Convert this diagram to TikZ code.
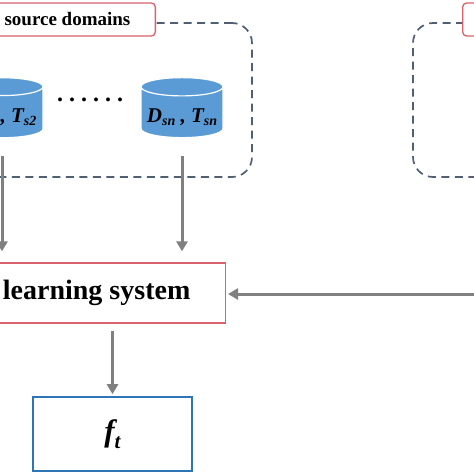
\documentclass[tikz,border=0pt]{standalone}
\usepackage{fontspec}
\setmainfont{Liberation Serif}
\usetikzlibrary{positioning,shapes.geometric,arrows.meta}

\definecolor{cylblue}{RGB}{91,155,213}
\definecolor{lblred}{RGB}{218,98,108}
\definecolor{dashgray}{RGB}{80,96,114}
\definecolor{arrgray}{RGB}{128,128,128}
\definecolor{boxblue}{RGB}{46,117,182}

\newcommand{\dbtext}[2]{\raisebox{-10pt}[0pt][0pt]{D\raisebox{-0.35ex}{\fontsize{14}{14}\selectfont #1} , T\raisebox{-0.35ex}{\fontsize{14}{14}\selectfont #2}}}

\begin{document}
\begin{tikzpicture}[x=1pt,y=-1pt,
  group/.style={draw=dashgray,line width=1.7pt,rounded corners=20pt,dash pattern=on 8pt off 5.5pt},
  tag/.style={draw=lblred,line width=1.3pt,rounded corners=4pt,fill=white,minimum height=33pt,font=\fontsize{19}{19}\selectfont\bfseries},
  db/.style={cylinder,shape border rotate=90,aspect=0.26,minimum width=82pt,minimum height=60pt,
    cylinder uses custom fill,cylinder body fill=cylblue,cylinder end fill=cylblue,draw=white,line width=1.2pt,
    inner sep=0pt,font=\fontsize{21}{21}\selectfont\bfseries\itshape},
  flow/.style={draw=arrgray,line width=3pt,-{Triangle[length=10pt,width=11pt]}}]

\useasboundingbox (0,0) rectangle (474,474);
\clip (0,0) rectangle (474,474);

% source side
\node[group,minimum width=352pt,minimum height=154pt] (src) at (76,100) {};
\node[tag,anchor=east,inner xsep=25pt] (srctag) at (156,19.5) {source domains};

\node[db] (ds2) at (2,112.5) {\dbtext{s2}{s2}};
\node[db] (dsn) at (182,112.5) {\dbtext{sn}{sn}};
\node[font=\fontsize{24}{24}\selectfont\bfseries] (dots) at (90,100) {.\hspace{6pt}.\hspace{6pt}.\hspace{6pt}.\hspace{6pt}.\hspace{6pt}.};

% target side
\node[group,minimum width=287pt,minimum height=154pt] (tgt) at (556.5,100) {};
\node[tag,anchor=west,minimum width=100pt] (tgttag) at (462,19.5) {};

% learner and output
\node[draw=lblred,line width=1.3pt,anchor=east,inner xsep=35pt,minimum height=60pt,font=\fontsize{28}{28}\selectfont\bfseries] (sys) at (226,293) {learning system};
\node[draw=boxblue,line width=1.6pt,minimum width=159pt,minimum height=74pt,font=\fontsize{31}{31}\selectfont\bfseries\itshape] (ft) at (112.5,434) {f\raisebox{-0.45ex}{\fontsize{21}{21}\selectfont t}};

\coordinate (tgtout) at (490,294);

\draw[flow,shorten <=18pt,shorten >=11pt] (ds2.south) -- (ds2.south |- sys.north);
\draw[flow,shorten <=18pt,shorten >=11pt] (dsn.south) -- (dsn.south |- sys.north);
\draw[flow,shorten >=2pt] (tgtout) -- (sys.east |- tgtout);
\draw[flow,shorten <=7pt,shorten >=2pt] (ft.north |- sys.south) -- (ft.north);

\end{tikzpicture}
\end{document}
